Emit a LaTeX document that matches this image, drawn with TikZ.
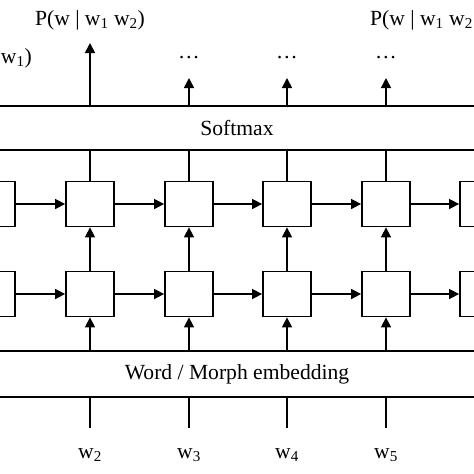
\documentclass[tikz,border=0pt]{standalone}
\usepackage{fontspec}
\setmainfont{Liberation Serif}
\usetikzlibrary{arrows.meta}
\begin{document}
\begin{tikzpicture}[x=1pt,y=-1pt,
  cell/.style={draw, line width=1.8pt, minimum width=48pt, minimum height=45pt, inner sep=0pt, fill=white},
  band/.style={line width=2pt},
  conn/.style={line width=1.6pt},
  arr/.style={conn, -{Triangle[length=10pt,width=10pt]}},
  lbl/.style={font=\fontsize{21.6}{24}\selectfont, inner sep=0pt}]
\useasboundingbox (0,0) rectangle (474,474);
\clip (0,0) rectangle (474,474);
% bands
\draw[band] (-20,106) -- (494,106);
\draw[band] (-20,150) -- (494,150);
\draw[band] (-20,351) -- (494,351);
\draw[band] (-20,397) -- (494,397);
\node[lbl] (softmax) at (237,128) {Softmax};
\node[lbl] (embed) at (237,374) {Word / Morph embedding};
% columns
\foreach \i/\x in {0/-9,1/90,2/189,3/287,4/386,5/484} {
  \node[cell] (t\i) at (\x,204) {};
  \node[cell] (b\i) at (\x,294) {};
  \coordinate (sm\i) at (\x,150);
  \coordinate (st\i) at (\x,106);
  \coordinate (et\i) at (\x,351);
  \coordinate (eb\i) at (\x,397);
  \coordinate (in\i) at (\x,428);
  \draw[conn] (t\i.north) -- (sm\i);
  \draw[arr] (b\i.north) -- (t\i.south);
  \draw[arr] (et\i) -- (b\i.south);
  \draw[conn] (eb\i) -- (in\i);
}
\foreach \i/\j in {0/1,1/2,2/3,3/4,4/5} {
  \draw[arr] (t\i.east) -- (t\j.west);
  \draw[arr] (b\i.east) -- (b\j.west);
}
% outputs
\coordinate (tip0) at (-9,78);
\coordinate (tip1) at (90,43);
\coordinate (tip2) at (189,78);
\coordinate (tip3) at (287,78);
\coordinate (tip4) at (386,78);
\coordinate (tip5) at (484,43);
\foreach \i in {0,...,5} { \draw[arr] (st\i) -- (tip\i); }
\node[lbl, anchor=east] (p0) at (32,58) {w\textsubscript{1})};
\node[lbl] (p1) at (90,20) {P(w | w\textsubscript{1} w\textsubscript{2})};
\node[lbl, anchor=west] (p5) at (370,20) {P(w | w\textsubscript{1} w\textsubscript{2}};
\node[lbl] (d2) at (189,58) {…};
\node[lbl] (d3) at (287,58) {…};
\node[lbl] (d4) at (386,58) {…};
% inputs
\node[lbl] (w2) at (90,455) {w\textsubscript{2}};
\node[lbl] (w3) at (189,455) {w\textsubscript{3}};
\node[lbl] (w4) at (287,455) {w\textsubscript{4}};
\node[lbl] (w5) at (386,455) {w\textsubscript{5}};
\end{tikzpicture}
\end{document}
